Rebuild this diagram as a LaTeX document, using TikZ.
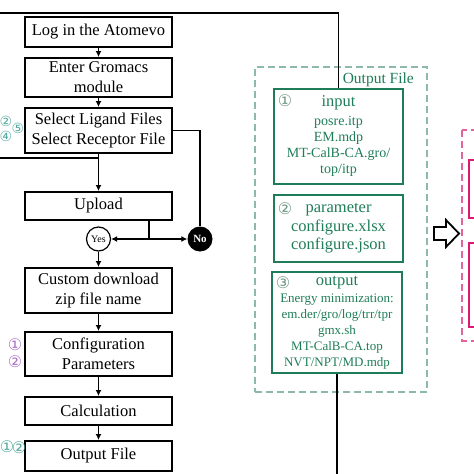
\documentclass[tikz,border=0pt]{standalone}
\usepackage{fontspec}
\setmainfont{Liberation Serif}
\newfontfamily\circfont{DejaVu Sans}
\usetikzlibrary{arrows.meta}

\definecolor{filegreen}{RGB}{30,125,88}
\definecolor{outgreen}{RGB}{140,185,168}
\definecolor{tagteal}{RGB}{85,170,160}
\definecolor{taggray}{RGB}{110,150,130}
\definecolor{tagpurple}{RGB}{170,115,200}
\definecolor{rosered}{RGB}{220,25,115}
\definecolor{rosedash}{RGB}{225,100,155}

\tikzset{
  stepbox/.style={draw=black, line width=2pt, minimum width=147pt, inner sep=0pt,
    align=center, font=\fontsize{16.5}{20}\selectfont},
  filebox/.style={draw=filegreen, line width=1.8pt, inner sep=0pt, text=filegreen, align=center},
  yesdot/.style={circle, draw=black, line width=1.2pt, fill=white, minimum size=24pt,
    inner sep=0pt, font=\fontsize{10}{10}\selectfont},
  nodot/.style={circle, fill=black, minimum size=25pt, inner sep=0pt, text=white,
    font=\bfseries\fontsize{11}{11}\selectfont},
  tag/.style={inner sep=0pt, font=\circfont\fontsize{14}{14}\selectfont},
  bigtag/.style={inner sep=0pt, font=\circfont\fontsize{16}{16}\selectfont},
  link/.style={line width=1.6pt},
  arr/.style={line width=1.6pt, -{Latex[length=6pt,width=6pt]}},
  dashbox/.style={line width=1.2pt, dash pattern=on 7pt off 4pt},
}

\begin{document}
\begin{tikzpicture}[x=1pt,y=-1pt]
  \useasboundingbox (0,0) rectangle (474,474);
  \clip (0,0) rectangle (474,474);

  % flow of the steps
  \node[stepbox, minimum height=30pt] (login) at (98.5,32) {Log in the Atomevo};
  \node[stepbox, minimum height=39pt] (gromacs) at (98.5,77.5) {Enter Gromacs\\module};
  \node[stepbox, minimum height=45pt] (select) at (98.5,130.5) {Select Ligand Files\\Select Receptor File};
  \node[stepbox, minimum height=28pt] (upload) at (98.5,206) {Upload};
  \node[yesdot] (yes) at (98.5,239) {Yes};
  \node[nodot] (no) at (200,239) {No};
  \node[stepbox, minimum height=45pt] (zipname) at (98.5,290.5) {Custom download\\zip file name};
  \node[stepbox, minimum height=44pt] (config) at (98.5,354) {Configuration\\Parameters};
  \node[stepbox, minimum height=28pt] (calc) at (98.5,411) {Calculation};
  \node[stepbox, minimum height=30pt] (outfile) at (98.5,456) {Output File};

  % circled hints beside the steps
  \node[tag, text=tagteal] (selA) at (6,121) {②};
  \node[tag, text=tagteal] (selB) at (18,128) {⑤};
  \node[tag, text=tagteal] (selC) at (6,136) {④};
  \node[bigtag, text=tagpurple] (cfgA) at (15,345) {①};
  \node[bigtag, text=tagpurple] (cfgB) at (15,362) {②};
  \node[bigtag, text=tagteal] (outA) at (7,447) {①};
  \node[bigtag, text=tagteal] (outB) at (19,448) {②};

  % connectors
  \draw[arr] (login) -- (gromacs);
  \draw[arr] (gromacs) -- (select);
  \draw[arr] (select) -- (upload);
  \coordinate (leftin) at (0,158);
  \draw[link] (leftin) -- (leftin -| select.south);
  \draw[link] (select.east) -| (no.north);
  \coordinate (split) at (149,239);
  \draw[link] (upload.south -| split) -- (split);
  \draw[arr] (split) -- (yes);
  \draw[arr] (split) -- (no);
  \draw[arr] (yes) -- (yes |- zipname.north);
  \draw[arr] (zipname) -- (config);
  \draw[arr] (config) -- (calc);
  \draw[arr] (calc) -- (outfile);

  % output files
  \node[draw=outgreen, dashbox, minimum width=172pt, minimum height=325pt] (filegroup) at (341,229.5) {};
  \node[anchor=east, inner sep=0pt, text=filegreen, font=\fontsize{15.5}{15.5}\selectfont] (grouplabel) at (414,80) {Output File};
  \node[filebox, minimum width=129pt, minimum height=95pt, font=\fontsize{14}{16}\selectfont] (inbox) at (338.5,136.5)
    {{\fontsize{16.5}{16}\selectfont input}\\[3pt] posre.itp\\ EM.mdp\\ MT-CalB-CA.gro/\\ top/itp};
  \node[filebox, minimum width=129pt, minimum height=67pt, font=\fontsize{16.5}{18.5}\selectfont] (parbox) at (338.5,228.5)
    {parameter\\ configure.xlsx\\ configure.json};
  \node[filebox, minimum width=130pt, minimum height=101pt, font=\fontsize{13}{16}\selectfont] (resbox) at (337,322.5)
    {{\fontsize{16.5}{16}\selectfont output}\\[1pt] Energy minimization:\\ em.der/gro/log/trr/tpr\\ gmx.sh\\ MT-CalB-CA.top\\ NVT/NPT/MD.mdp};
  \node[bigtag, text=taggray] (inTag) at (285,101) {①};
  \node[bigtag, text=taggray] (parTag) at (285,209) {②};
  \node[bigtag, text=taggray] (resTag) at (283,283) {③};

  \coordinate (topin) at (0,13);
  \draw[link] (topin) -| (inbox.north);
  \coordinate (downout) at (337,474);
  \draw[link] (resbox.south) -- (downout);

  % hollow arrow and the cut-off pink group
  \draw[line width=1.8pt, fill=white, line join=miter] (434,227) -- (446,227) -- (446,220)
    -- (459,233.5) -- (446,247) -- (446,240) -- (434,240) -- cycle;
  \draw[rosedash, dashbox] (462,130) rectangle (490,341);
  \draw[rosered, line width=2pt] (469,160) rectangle (490,218);
  \draw[rosered, line width=2pt] (469,243) rectangle (490,327);
\end{tikzpicture}
\end{document}
